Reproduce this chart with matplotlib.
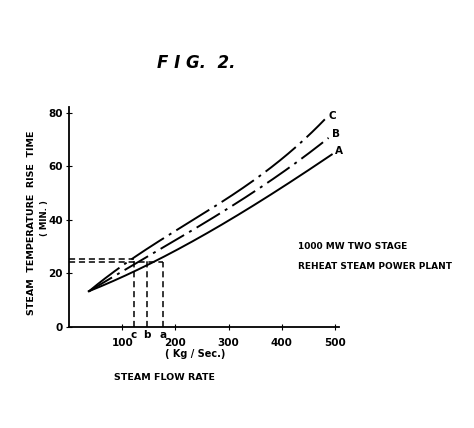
import numpy as np
import matplotlib.pyplot as plt

# curva A, B, C  (flujo kg/s vs tiempo de subida en min)
flow_a = [37, 134, 197, 291, 384, 494]
rise_a = [13.2, 22.3, 28.1, 38.1, 50.6, 64.3]
flow_b = [37, 134, 197, 291, 384, 488]
rise_b = [13.2, 25.0, 31.9, 43.1, 55.6, 70.6]
flow_c = [37, 134, 197, 291, 384, 481]
rise_c = [13.2, 27.7, 35.6, 46.8, 60.6, 77.5]

# puntos de lectura c, b, a
read_names = ['c', 'b', 'a']
read_flow = [122, 147, 176]
read_rise = [25.5, 24.8, 24.2]

xticks = [100, 200, 300, 400, 500]
yticks = [0, 20, 40, 60, 80]

plt.rcParams['font.family'] = ['DejaVu Sans']
plt.rcParams['font.weight'] = 'bold'

fig = plt.figure(figsize=(4.74, 4.28), dpi=100)
ax = fig.add_axes([0.1456, 0.236, 0.57, 0.514])


def suave(x, y):
    # curva suave por los puntos leidos
    c = np.polyfit(x, y, 3)
    xx = np.linspace(x[0], x[-1], 200)
    return xx, np.polyval(c, xx)


xx, yy = suave(flow_a, rise_a)
ax.plot(xx, yy, color='black', lw=1.4)
xx, yy = suave(flow_b, rise_b)
ax.plot(xx, yy, color='black', lw=1.4, dashes=(14, 3, 1.5, 3))
xx, yy = suave(flow_c, rise_c)
ax.plot(xx, yy, color='black', lw=1.4, dashes=(20, 3, 1.5, 3))

for name, xe, ye in [('C', flow_c[-1], rise_c[-1]), ('B', flow_b[-1], rise_b[-1]), ('A', flow_a[-1], rise_a[-1])]:
    ax.text(xe + 6, ye + 1.5, name, fontsize=7.5, fontweight='bold', va='center')

# lineas de lectura
for n, xr, yr in zip(read_names, read_flow, read_rise):
    ax.plot([xr, xr], [0, yr], color='black', lw=1.1, dashes=(4, 2.5))
    ax.text(xr, -1.2, n, fontsize=7.5, ha='center', va='top')
ax.plot([0, read_flow[0]], [read_rise[0], read_rise[0]], color='black', lw=1.1, dashes=(4, 2.5))
ax.plot([0, read_flow[2]], [read_rise[2], read_rise[2]], color='black', lw=1.1, dashes=(4, 2.5))

ax.set_xlim(0, 508)
ax.set_ylim(0, 82.2)
ax.spines['top'].set_visible(False)
ax.spines['right'].set_visible(False)
ax.spines['left'].set_linewidth(1.3)
ax.spines['bottom'].set_linewidth(1.3)
ax.set_xticks(xticks)
ax.set_yticks(yticks)
ax.tick_params(axis='x', direction='inout', length=4, labelsize=7.5, pad=6)
ax.tick_params(axis='y', direction='inout', length=5, labelsize=7.5, pad=2)

fig.text(0.066, 0.479, 'STEAM  TEMPERATURE  RISE  TIME', rotation=90, fontsize=6.8, fontweight='bold', ha='center', va='center')
fig.text(0.094, 0.49, '( MIN. )', rotation=90, fontsize=6.2, fontweight='bold', ha='center', va='center')
fig.text(0.412, 0.172, '( Kg / Sec.)', fontsize=7, fontweight='bold', ha='center', va='center')
fig.text(0.346, 0.119, 'STEAM FLOW RATE', fontsize=6.8, fontweight='bold', ha='center', va='center')

fig.text(0.628, 0.423, '1000 MW TWO STAGE', fontsize=6.5, fontweight='bold', va='center')
fig.text(0.628, 0.378, 'REHEAT STEAM POWER PLANT', fontsize=6.5, fontweight='bold', va='center')

fig.text(0.413, 0.853, 'F I G.  2.', fontsize=12, fontweight='bold', style='italic', ha='center', va='center')

fig.savefig('out.png', dpi=100)
